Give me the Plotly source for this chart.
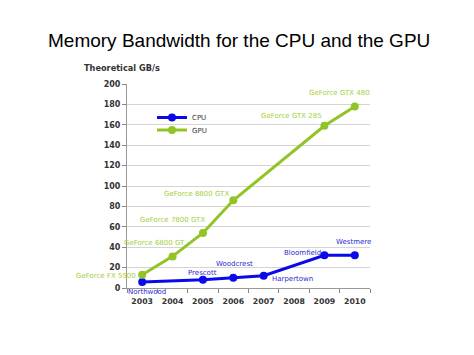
import plotly.graph_objects as go

years = ["2003", "2004", "2005", "2006", "2007", "2008", "2009", "2010"]
gpu_years = ["2003", "2004", "2005", "2006", "2009", "2010"]
gpu_values = [13, 31, 54, 86, 159, 178]
gpu_names = ["GeForce FX 5900", "GeForce 6800 GT", "GeForce 7800 GTX",
             "GeForce 8800 GTX", "GeForce GTX 285", "GeForce GTX 480"]
cpu_years = ["2003", "2005", "2006", "2007", "2009", "2010"]
cpu_values = [6, 8, 10, 12, 32, 32]
cpu_names = ["Northwood", "Prescott", "Woodcrest", "Harpertown", "Bloomfield", "Westmere"]
y_ticks = [0, 20, 40, 60, 80, 100, 120, 140, 160, 180, 200]

GPU_COLOR = "#92c426"
GPU_TEXT = "#a6cf3c"
CPU_COLOR = "#0a0ae8"
CPU_TEXT = "#2b2bd0"

# label offsets in pixels relative to each point (xshift, yshift)
gpu_shift = [(-36, -1), (-18, 13), (-30, 13), (-37, 6), (-33, 10), (-15, 13)]
cpu_shift = [(5, -10), (0, 7), (1, 14), (29, -3), (-22, 2), (-1, 13)]

# page body has an 8px margin: the figure is drawn 8px in from the window edge
OFF = 8
WIN_W, WIN_H = 474, 355
W, H = WIN_W - 2 * OFF, WIN_H - 2 * OFF
# plot area in window pixels
PL, PR, PT, PB = 127, 370, 84, 288
L, T = PL - OFF, PT - OFF
R, B = W - (PR - OFF), H - (PB - OFF)
pw, ph = W - L - R, H - T - B


def px_x(p):
    return (p - PL) / pw


def px_y(p):
    return (PB - p) / ph


fig = go.Figure()
fig.add_trace(go.Scatter(x=cpu_years, y=cpu_values, name="CPU", mode="lines+markers",
                         line=dict(color=CPU_COLOR, width=3),
                         marker=dict(color=CPU_COLOR, size=8), legend="legend"))
fig.add_trace(go.Scatter(x=gpu_years, y=gpu_values, name="GPU", mode="lines+markers",
                         line=dict(color=GPU_COLOR, width=3),
                         marker=dict(color=GPU_COLOR, size=8), legend="legend2"))

annotations = []
for xv, yv, t, (dx, dy) in zip(gpu_years, gpu_values, gpu_names, gpu_shift):
    annotations.append(dict(x=years.index(xv), y=yv, xref="x", yref="y", text=t, showarrow=False,
                            xshift=dx, yshift=dy,
                            font=dict(family="DejaVu Sans", size=7, color=GPU_TEXT)))
for xv, yv, t, (dx, dy) in zip(cpu_years, cpu_values, cpu_names, cpu_shift):
    annotations.append(dict(x=years.index(xv), y=yv, xref="x", yref="y", text=t, showarrow=False,
                            xshift=dx, yshift=dy,
                            font=dict(family="DejaVu Sans", size=7, color=CPU_TEXT)))
annotations.append(dict(x=px_x(82), y=px_y(67.5), xref="paper", yref="paper",
                        text="Theoretical GB/s",
                        showarrow=False, xanchor="left", yanchor="middle",
                        font=dict(family="DejaVu Sans", size=8.2, color="#333333", weight="bold")))
annotations.append(dict(x=px_x(239), y=px_y(40), xref="paper", yref="paper",
                        text="Memory Bandwidth for the CPU and the GPU",
                        showarrow=False, xanchor="center", yanchor="middle",
                        font=dict(family="Liberation Sans", size=19, color="black")))

leg_common = dict(xanchor="left", yanchor="middle", bgcolor="rgba(0,0,0,0)", itemwidth=30,
                  font=dict(family="DejaVu Sans", size=7, color="#333333"),
                  borderwidth=0)

fig.update_layout(
    width=W, height=H,
    margin=dict(l=L, r=R, t=T, b=B, autoexpand=False),
    paper_bgcolor="white", plot_bgcolor="white",
    showlegend=True,
    legend=dict(x=px_x(152), y=px_y(117.5), **leg_common),
    legend2=dict(x=px_x(152), y=px_y(130), **leg_common),
    annotations=annotations,
)
fig.update_xaxes(type="category", categoryorder="array", categoryarray=years,
                 tickvals=years, ticktext=years, tickson="boundaries", tickangle=0,
                 ticks="outside", ticklen=4, tickcolor="#888888", automargin=False,
                 ticklabelstandoff=6,
                 showline=True, linecolor="#999999", linewidth=1, showgrid=False,
                 range=[-0.5, 7.5],
                 tickfont=dict(family="DejaVu Sans", size=7.8, color="#333333", weight="bold"))
fig.update_yaxes(range=[0, 200], tickvals=y_ticks, ticks="outside", ticklen=4, automargin=False,
                 tickcolor="#888888", showline=True, linecolor="#999999", linewidth=1,
                 showgrid=True, gridcolor="#d4d4d4", gridwidth=1, zeroline=False,
                 tickfont=dict(family="DejaVu Sans", size=8, color="#333333", weight="bold"))

fig.write_html("out.html")
